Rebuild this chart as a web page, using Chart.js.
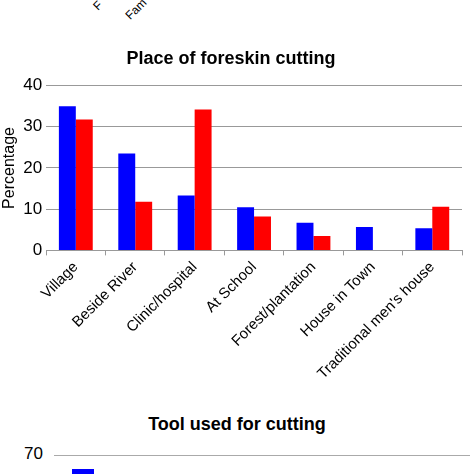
<!DOCTYPE html>
<html><head><meta charset="utf-8">
<script src="https://cdn.jsdelivr.net/npm/chart.js@4"></script>
<style>
body{margin:0;width:474px;height:474px;background:#fff;position:relative;overflow:hidden;font-family:"Liberation Sans",Arial,sans-serif}
#w{position:absolute;left:0;top:46px;width:474px;height:340px}
.t{position:absolute;white-space:nowrap}
</style></head><body>
<div class="t" style="left:88px;top:-2px;font-size:12px;transform:rotate(-45deg);transform-origin:right top">F</div>
<div class="t" style="left:124px;top:2px;font-size:12px;transform:rotate(-45deg)">Fam</div>
<div id="w"><canvas id="c"></canvas></div>
<div class="t" style="left:0;width:474px;text-align:center;top:414px;font-size:18px;font-weight:bold">Tool used for cutting</div>
<div class="t" style="left:24px;top:444px;font-size:17px">70</div>
<div style="position:absolute;left:54px;top:455px;width:416px;height:1px;background:#aaa"></div>
<div style="position:absolute;left:72px;top:469px;width:22px;height:8px;background:#0000ff"></div>
<script>
const categories=["Village","Beside River","Clinic/hospital","At School","Forest/plantation","House in Town","Traditional men's house"];
const seriesBlue=[35,23.5,13.3,10.5,6.7,5.7,5.4];
const seriesRed=[31.8,11.8,34.2,8.2,3.5,0,10.6];
new Chart(document.getElementById('c'),{type:'bar',
data:{labels:categories,datasets:[
{data:seriesBlue,backgroundColor:'#0000ff',barPercentage:1,categoryPercentage:0.57},
{data:seriesRed,backgroundColor:'#ff0000',barPercentage:1,categoryPercentage:0.57}]},
options:{responsive:true,maintainAspectRatio:false,animation:false,
layout:{padding:{right:12,top:0}},
plugins:{legend:{display:false},tooltip:{enabled:false},
title:{display:true,text:'Place of foreskin cutting',font:{size:18,weight:'bold',family:'Liberation Sans'},color:'#000',padding:{top:2,bottom:16}}},
scales:{
x:{grid:{display:true,drawOnChartArea:false,color:'#999',tickLength:5,offset:true},border:{color:'#999'},
ticks:{color:'#000',font:{size:15,family:'Liberation Sans'},maxRotation:45,minRotation:45,autoSkip:false}},
y:{min:0,max:40,ticks:{stepSize:5,color:'#000',font:{size:17,family:'Liberation Sans'},padding:4},
grid:{color:'#999',drawTicks:false},border:{display:false},
title:{display:true,text:'Percentage',color:'#000',font:{size:16,family:'Liberation Sans'},padding:0}}}}});
</script></body></html>
